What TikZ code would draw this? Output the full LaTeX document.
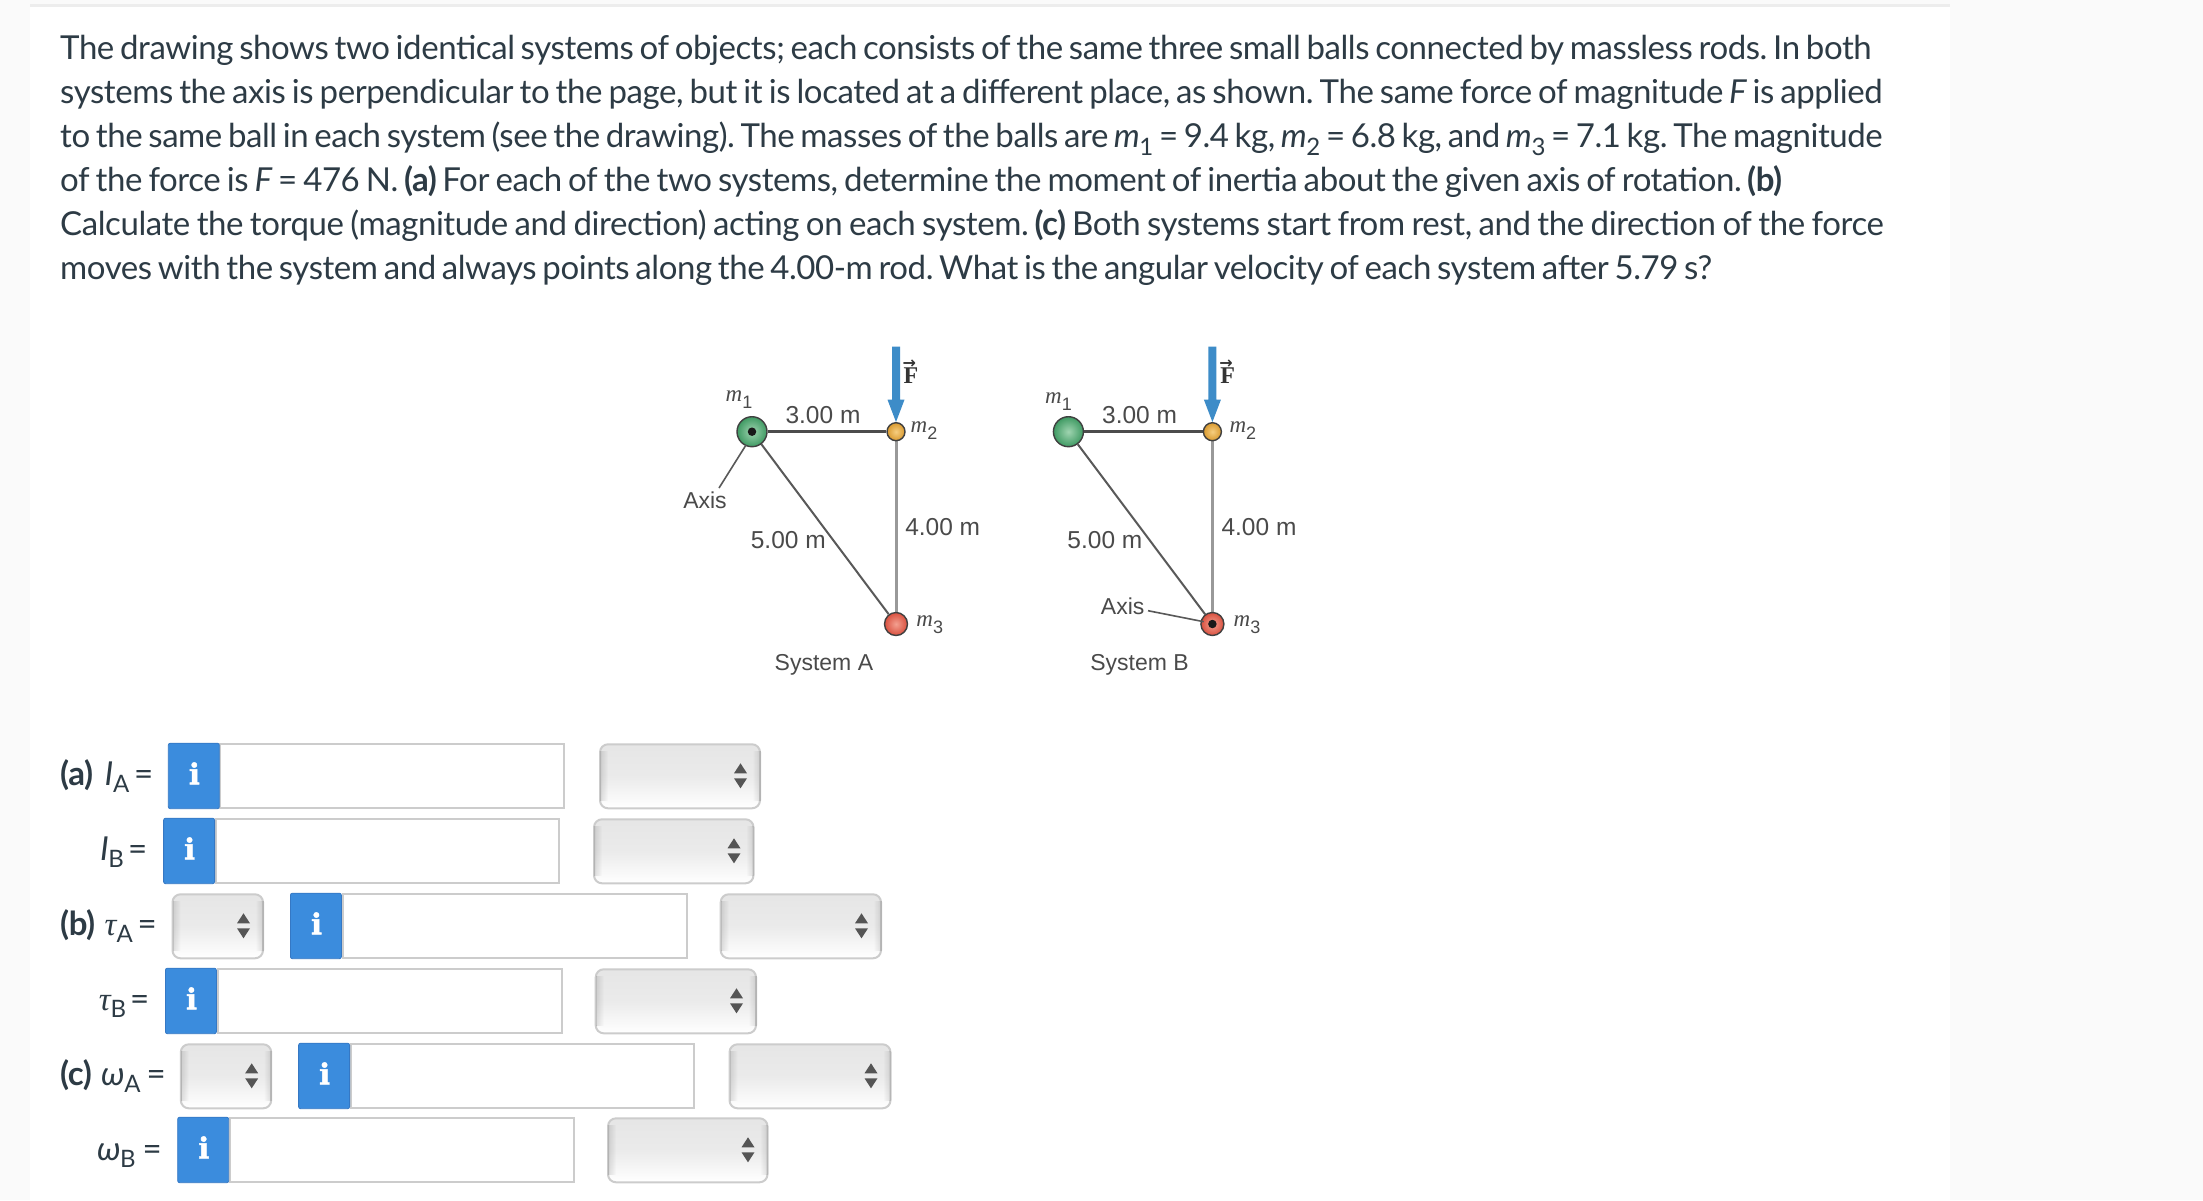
\documentclass[tikz,border=0pt]{standalone}
\usepackage{fontspec}
\setmainfont{Lato}[WordSpace=0.75,LetterSpace=-1.3]
\newfontfamily\figfont{Liberation Sans}
\newfontfamily\figital{Liberation Serif}
\newfontfamily\infofont[FakeBold=1.5]{DejaVu Serif}
\newfontfamily\arrowfont{DejaVu Sans}
\frenchspacing
\usetikzlibrary{backgrounds,fadings,calc}
\definecolor{inktext}{HTML}{2D3B45}
\definecolor{figtext}{HTML}{4A4A4A}
\definecolor{forceblue}{HTML}{3D8CC8}
\definecolor{infoblue}{HTML}{3B8CDD}
\definecolor{infoedge}{HTML}{3578C4}
\definecolor{formline}{HTML}{CCCCCC}
\definecolor{pagegrey}{HTML}{FAFAFA}
\definecolor{arrowgrey}{HTML}{555555}
\definecolor{greenin}{HTML}{9FD4B0}
\definecolor{greenout}{HTML}{3F9A63}
\definecolor{orangein}{HTML}{F6CE80}
\definecolor{orangeout}{HTML}{D99A30}
\definecolor{redin}{HTML}{F3A090}
\definecolor{redout}{HTML}{D9503F}
\newcommand{\subs}[1]{\raisebox{-0.24em}{\fontsize{24}{24}\selectfont #1}}
\newcommand{\mvar}[1]{\textit{m}\subs{#1}}
\newcommand{\figmass}[1]{\textit{m}\raisebox{-.3em}{\fontsize{18}{18}\selectfont\figfont #1}}
\newcommand{\figforce}{\rlap{\kern-1pt\raisebox{15pt}{\arrowfont\bfseries\fontsize{16}{16}\selectfont →}}F}
\newcommand{\wordadj}[1]{\spaceskip=\dimexpr\fontdimen2\font+#1pt\relax}
\tikzset{
  x=1pt,y=-1pt,
  bodyline/.style={anchor=base west,inner sep=0,text=inktext,font=\fontsize{33}{33}\selectfont},
  formlabel/.style={anchor=base west,inner sep=0,text=inktext,font=\fontsize{33}{33}\selectfont},
  figlabel/.style={inner sep=0,text=figtext,font=\figfont\fontsize{24.5}{24.5}\selectfont},
  figname/.style={inner sep=0,text=figtext,font=\figfont\fontsize{23}{23}\selectfont},
  massvar/.style={inner sep=0,text=figtext,font=\figital\fontsize{23}{23}\selectfont},
  forcevar/.style={inner sep=0,anchor=base,text=figtext!70!black,font=\figital\bfseries\fontsize{24}{24}\selectfont},
  ball/.style={circle,draw=black!75,line width=1.4pt,inner sep=0},
  greenball/.style={ball,minimum size=30pt,inner color=greenin,outer color=greenout},
  orangeball/.style={ball,minimum size=18pt,inner color=orangein,outer color=orangeout},
  redball/.style={ball,minimum size=23pt,inner color=redin,outer color=redout},
  axisdot/.style={circle,fill=black!90,inner sep=0,minimum size=8.5pt},
  rodtop/.style={draw=black!70,line width=2.6pt},
  rodside/.style={draw=black!40,line width=3pt},
  rodlong/.style={draw=black!65,line width=2pt},
  axisline/.style={draw=black!65,line width=1.6pt},
  forcearrow/.style={fill=forceblue,draw=none},
  inputbox/.style={rectangle,draw=formline,line width=2pt,fill=white,inner sep=0,minimum height=64pt,anchor=north west},
  infobox/.style={rectangle,fill=infoblue,draw=infoedge,line width=.8pt,rounded corners=2pt,inner sep=0,minimum width=51pt,minimum height=65.5pt,anchor=north west},
  selectbox/.style={rectangle,draw=formline,line width=2pt,rounded corners=8pt,top color=black!10,bottom color=white,middle color=black!8,inner sep=0,minimum height=64pt,anchor=north west},
  updown/.style={fill=arrowgrey,draw=none},
}
% \formsel{name}{left}{right}{top}
\newcommand{\formsel}[4]{%
  \pgfmathsetmacro{\boxw}{#3-#2-0.5}%
  \node[selectbox,minimum width=\boxw pt] (#1) at (#2-1,#4) {};
  \fill[black,opacity=.12,path fading=east] (#2,#4+8) rectangle (#2+8,#4+58);
  \fill[black,opacity=.12,path fading=west] (#3-8,#4+8) rectangle (#3,#4+58);
  \fill[updown] (#3-20,#4+20) -- (#3-13.5,#4+30) -- (#3-26.5,#4+30) -- cycle;
  \fill[updown] (#3-20,#4+45) -- (#3-13.5,#4+35) -- (#3-26.5,#4+35) -- cycle;
}
% \forminput{name}{blueleft}{right}{top}
\newcommand{\forminput}[4]{%
  \pgfmathsetmacro{\boxw}{#3-#2-53}%
  \node[inputbox,minimum width=\boxw pt] (#1) at (#2+51,#4) {};
  \node[infobox] (#1i) at (#2-.5,#4-.5) {};
  \node[inner sep=0,text=white,font=\infofont\bfseries\fontsize{29}{29}\selectfont] (#1t) at (#2+26,#4+30) {i};
}
\begin{document}
\begin{tikzpicture}
\useasboundingbox (0,0) rectangle (2203,1200);
\begin{scope}[on background layer]
\fill[pagegrey] (0,0) rectangle (2203,1200);
\fill[white] (30,6) rectangle (1950,1200);
\fill[black!7] (30,4) rectangle (1950,7);
\end{scope}
% question text
\node[bodyline] (l1) at (60,59.3) {\wordadj{-0.27}The drawing shows two identical systems of objects; each consists of the same three small balls connected by massless rods. In both};
\node[bodyline] (l2) at (60,103.3) {systems the axis is perpendicular to the page, but it is located at a different place, as shown. The same force of magnitude \textit{F} is applied};
\node[bodyline] (l3) at (60,147.3) {\wordadj{-0.36}to the same ball in each system (see the drawing). The masses of the balls are \mvar{1} = 9.4 kg, \mvar{2} = 6.8 kg, and \mvar{3} = 7.1 kg. The magnitude};
\node[bodyline] (l4) at (60,191.3) {of the force is \textit{F} = 476 N. \textbf{(a)} For each of the two systems, determine the moment of inertia about the given axis of rotation. \textbf{(b)}};
\node[bodyline] (l5) at (60,235.3) {\wordadj{0.4}Calculate the torque (magnitude and direction) acting on each system. \textbf{(c)} Both systems start from rest, and the direction of the force};
\node[bodyline] (l6) at (60,279.3) {\wordadj{-0.33}moves with the system and always points along the 4.00-m rod. What is the angular velocity of each system after 5.79 s?};
% System A
\node[greenball] (a1) at (752,431.7) {};
\node[orangeball] (a2) at (896,431.7) {};
\node[redball] (a3) at (896,624) {};
\node[axisdot] (aaxis) at (a1) {};
\begin{scope}[on background layer]
\draw[rodtop] (a1) -- (a2);
\draw[rodside] (a2) -- (a3);
\draw[rodlong] (a1) -- (a3);
\end{scope}
\node[figlabel] (a12) at (823,415) {3.00 m};
\node[figlabel] (a23) at (942.7,527) {4.00 m};
\node[figlabel] (a13) at (788.3,540) {5.00 m};
\node[figname] (aname) at (823.9,665) {System A};
\node[figname] (aaxl) at (705,500) {Axis};
\coordinate (aaxe) at (746,445);
\coordinate (aaxs) at (719,488);
\draw[axisline] (aaxs) -- (aaxe);
\node[massvar] (am1) at (739,400) {\figmass{1}};
\node[massvar] (am2) at (924,431) {\figmass{2}};
\node[massvar] (am3) at (929.7,625) {\figmass{3}};
\coordinate (aft) at (896,346.7);
\fill[forcearrow] ($(aft)+(-4,0)$) -- ($(aft)+(4,0)$) -- ($(aft)+(4,53)$) -- ($(aft)+(8.5,53)$) -- (a2.north) -- ($(aft)+(-8.5,53)$) -- ($(aft)+(-4,53)$) -- cycle;
\node[forcevar] (af) at (911,383) {\figforce};
% System B
\node[greenball] (b1) at (1068.4,431.7) {};
\node[orangeball] (b2) at (1212.4,431.7) {};
\node[redball] (b3) at (1212.4,624) {};
\node[axisdot] (baxis) at (b3) {};
\begin{scope}[on background layer]
\draw[rodtop] (b1) -- (b2);
\draw[rodside] (b2) -- (b3);
\draw[rodlong] (b1) -- (b3);
\end{scope}
\node[figlabel] (b12) at (1139.6,415) {3.00 m};
\node[figlabel] (b23) at (1259,527) {4.00 m};
\node[figlabel] (b13) at (1104.9,540) {5.00 m};
\node[figname] (bname) at (1139.6,665) {System B};
\node[figname] (baxl) at (1122.7,606.7) {Axis};
\coordinate (baxs) at (1148,610.7);
\coordinate (baxe) at (1203.7,621.7);
\draw[axisline] (baxs) -- (baxe);
\node[massvar] (bm1) at (1058.5,401.7) {\figmass{1}};
\node[massvar] (bm2) at (1242.8,431) {\figmass{2}};
\node[massvar] (bm3) at (1247,625) {\figmass{3}};
\coordinate (bft) at (1212.4,346.7);
\fill[forcearrow] ($(bft)+(-4,0)$) -- ($(bft)+(4,0)$) -- ($(bft)+(4,53)$) -- ($(bft)+(8.5,53)$) -- (b2.north) -- ($(bft)+(-8.5,53)$) -- ($(bft)+(-4,53)$) -- cycle;
\node[forcevar] (bf) at (1227.6,383) {\figforce};
% Form rows
\node[formlabel] (ra) at (60,785) {\textbf{(a)}};
\node[formlabel] (ra1) at (104.5,785) {\textit{I}\subs{A}};
\node[formlabel] (ra2) at (134,785) {=};
\forminput{ia}{168.4}{565}{743.3}
\formsel{sa}{600}{760.5}{743.3}
\node[formlabel] (rb1) at (99.8,860) {\textit{I}\subs{B}};
\node[formlabel] (rb2) at (128,860) {=};
\forminput{ib}{163.7}{560.4}{818.3}
\formsel{sb}{594}{754}{818.3}
\node[formlabel] (rc) at (60,935) {\textbf{(b)}};
\node[formlabel] (rc1) at (104.5,935) {{\figital\itshape τ}\subs{A}};
\node[formlabel] (rc2) at (137.5,935) {=};
\formsel{pc}{172.5}{263.5}{893.3}
\forminput{ic}{290.5}{688}{893.3}
\formsel{sc}{720.7}{881.5}{893.3}
\node[formlabel] (rd1) at (98.6,1010) {{\figital\itshape τ}\subs{B}};
\node[formlabel] (rd2) at (130,1010) {=};
\forminput{id}{165.5}{563}{968.3}
\formsel{sd}{595.7}{756.5}{968.3}
\node[formlabel] (re) at (60,1085) {\textbf{(c)}};
\node[formlabel] (re1) at (101,1085) {\textit{ω}\subs{A}};
\node[formlabel] (re2) at (146.5,1085) {=};
\formsel{pe}{180.8}{271.7}{1043.3}
\forminput{ie}{298.7}{695.4}{1043.3}
\formsel{se}{729.5}{891}{1043.3}
\node[formlabel] (rf1) at (96.8,1160) {\textit{ω}\subs{B}};
\node[formlabel] (rf2) at (142.5,1160) {=};
\forminput{if}{177.8}{574.5}{1117.3}
\formsel{sf}{608}{768}{1117.3}
\end{tikzpicture}
\end{document}
